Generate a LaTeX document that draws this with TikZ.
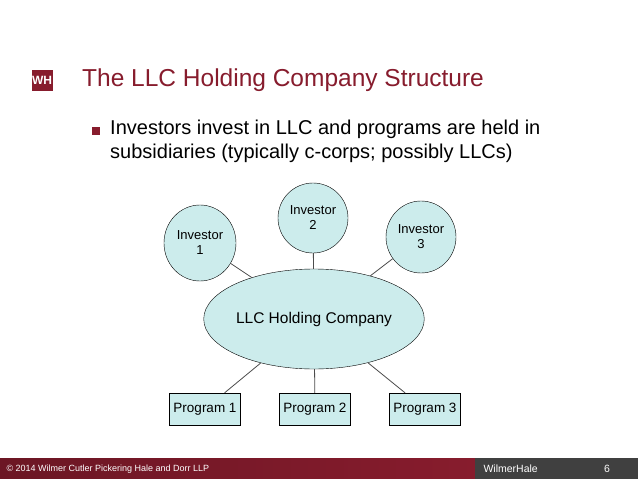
\documentclass[tikz,border=0pt]{standalone}
\usepackage{fontspec}
\setmainfont{Liberation Sans}
\usetikzlibrary{shapes.geometric}
\definecolor{wred}{RGB}{135,28,45}
\definecolor{lblue}{RGB}{204,236,236}
\definecolor{fgray}{RGB}{64,64,64}
\begin{document}
\begin{tikzpicture}[x=1pt,y=-1pt,
  ent/.style={draw=black,fill=lblue,ellipse,inner sep=0pt,font=\fontsize{13}{15}\selectfont,align=center},
  prog/.style={draw=black,fill=lblue,minimum width=71pt,minimum height=32pt,font=\fontsize{13.5}{15}\selectfont},
  link/.style={draw=black!70,line width=0.8pt}]
\useasboundingbox (0,0) rectangle (638,479);
\fill[white] (0,0) rectangle (638,479);
% logo
\node[fill=wred,minimum width=21pt,minimum height=21pt,inner sep=0pt,text=white,font=\bfseries\fontsize{12}{12}\selectfont] (logo) at (42,80) {WH};
\node[anchor=west,text=wred,font=\fontsize{24.5}{28}\selectfont,inner sep=0pt] (title) at (82,80) {The LLC Holding Company Structure};
\node[fill=wred,minimum size=8pt,inner sep=0pt] (bul) at (96,131) {};
\node[anchor=north west,align=left,font=\fontsize{20}{24}\selectfont,inner sep=0pt] (btxt) at (110,120) {Investors invest in LLC and programs are held in\\subsidiaries (typically c-corps; possibly LLCs)};
% diagram
\node[ent,minimum width=168pt,minimum height=100pt,font=\fontsize{15.5}{18}\selectfont] (llc) at (314,319) {LLC Holding Company};
\node[ent,minimum width=72pt,minimum height=76pt] (i1) at (200,243) {Investor\\1};
\node[ent,minimum width=70pt,minimum height=70pt] (i2) at (313,218) {Investor\\2};
\node[ent,minimum width=70pt,minimum height=72pt] (i3) at (421,237) {Investor\\3};
\node[prog] (p1) at (205,409) {Program 1};
\node[prog] (p2) at (315,409) {Program 2};
\node[prog] (p3) at (425,409) {Program 3};
\draw[link] (i1) -- (llc);
\draw[link] (i2) -- (llc);
\draw[link] (i3) -- (llc);
\draw[link] (p1) -- (llc);
\draw[link] (p2) -- (llc);
\draw[link] (p3) -- (llc);
% footer
\shade[left color=wred!80!black,right color=wred] (0,458) rectangle (475,479);
\fill[fgray] (475,458) rectangle (638,479);
\node[anchor=west,text=white,font=\fontsize{9}{10}\selectfont] (copy) at (3,469) {© 2014 Wilmer Cutler Pickering Hale and Dorr LLP};
\node[anchor=west,text=white,font=\fontsize{10.5}{12}\selectfont] (wh) at (480,469) {WilmerHale};
\node[text=white,font=\fontsize{10.5}{12}\selectfont] (pg) at (607,469) {6};
\end{tikzpicture}
\end{document}
